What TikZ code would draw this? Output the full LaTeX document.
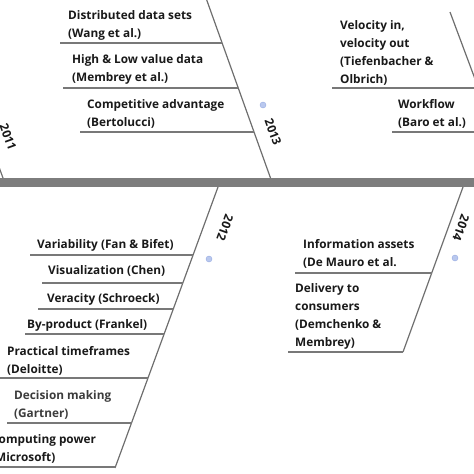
\documentclass[tikz,border=0pt]{standalone}
\usepackage{fontspec}
\setmainfont{Open Sans}
\definecolor{spinegray}{RGB}{125,125,125}
\definecolor{bonegray}{RGB}{110,110,110}
\definecolor{ribgray}{RGB}{120,120,120}
\definecolor{txt}{RGB}{25,25,25}
\definecolor{txtsoft}{RGB}{60,60,60}
\definecolor{dotfill}{RGB}{185,200,238}
\definecolor{dotdraw}{RGB}{150,170,225}
\tikzset{
  spine/.style={line width=9pt, spinegray},
  bone/.style={line width=1.2pt, bonegray},
  rib/.style={line width=1.6pt, ribgray},
  lbl/.style={anchor=north west, inner sep=0pt, align=left, text=txt, yshift=-2.5pt,
    font=\fontsize{11.8}{17.8}\selectfont\bfseries},
  year/.style={inner sep=0pt, text=txt, font=\fontsize{12}{14}\selectfont\bfseries},
  dot/.style={circle, inner sep=0pt, minimum size=6pt, fill=dotfill, draw=dotdraw, line width=0.4pt}
}
\begin{document}
\begin{tikzpicture}[x=1pt,y=-1pt]
\useasboundingbox (0,0) rectangle (474,474);
\clip (0,0) rectangle (474,474);
% spine
\coordinate (sL) at (-5,182.5);
\coordinate (sR) at (480,182.5);
\draw[spine] (sL) -- (sR);
% bones
\coordinate (b11t) at (-62,0);
\coordinate (b11b) at (3,178);
\coordinate (b13t) at (206,-2);
\coordinate (b13b) at (270.5,178);
\coordinate (b14t) at (450,12);
\coordinate (b14b) at (512,178);
\coordinate (b12t) at (218,187);
\coordinate (b12b) at (115,468);
\coordinate (b14lt) at (463,187);
\coordinate (b14lb) at (403,352);
\draw[bone] (b11t) -- (b11b);
\draw[bone] (b13t) -- (b13b);
\draw[bone] (b14t) -- (b14b);
\draw[bone] (b12t) -- (b12b);
\draw[bone] (b14lt) -- (b14lb);
% ribs upper 2013
\coordinate (a1) at (60,43);   \coordinate (a1e) at (221.5,43);
\coordinate (a2) at (63,88);   \coordinate (a2e) at (237.6,88);
\coordinate (a3) at (80,132);  \coordinate (a3e) at (253.5,132);
\draw[rib] (a1) -- (a1e);
\draw[rib] (a2) -- (a2e);
\draw[rib] (a3) -- (a3e);
% ribs upper 2014
\coordinate (c1) at (332,88);  \coordinate (c1e) at (480,88);
\coordinate (c2) at (392,132); \coordinate (c2e) at (480,132);
\draw[rib] (c1) -- (c1e);
\draw[rib] (c2) -- (c2e);
% ribs lower 2012
\coordinate (d1) at (30,255);  \coordinate (d1e) at (193,255);
\coordinate (d2) at (42,283);  \coordinate (d2e) at (183,283);
\coordinate (d3) at (38,309);  \coordinate (d3e) at (173.3,309);
\coordinate (d4) at (25,334);  \coordinate (d4e) at (164,334);
\coordinate (d5) at (-5,378);  \coordinate (d5e) at (148,378);
\coordinate (d6) at (7,423);   \coordinate (d6e) at (131.5,423);
\coordinate (d7) at (-5,467);  \coordinate (d7e) at (115.4,467);
\foreach \r in {d1,d2,d3,d4,d5,d6,d7} \draw[rib] (\r) -- (\r e);
% ribs lower 2014
\coordinate (e1) at (295,273); \coordinate (e1e) at (431.7,273);
\coordinate (e2) at (288,352); \coordinate (e2e) at (403,352);
\draw[rib] (e1) -- (e1e);
\draw[rib] (e2) -- (e2e);
% labels
\node[lbl] (t1) at (68,8) {Distributed data sets\\(Wang et al.)};
\node[lbl] (t2) at (72,52) {High \& Low value data\\(Membrey et al.)};
\node[lbl] (t3) at (87,97) {Competitive advantage\\(Bertolucci)};
\node[lbl] (t4) at (340,18) {Velocity in,\\velocity out\\(Tiefenbacher \&\\Olbrich)};
\node[lbl] (t5) at (398,97) {Workflow\\(Baro et al.)};
\node[lbl] (t6) at (37,237) {Variability (Fan \& Bifet)};
\node[lbl] (t7) at (48,263) {Visualization (Chen)};
\node[lbl] (t8) at (47,291) {Veracity (Schroeck)};
\node[lbl] (t9) at (27,317) {By-product (Frankel)};
\node[lbl] (t10) at (7,344) {Practical timeframes\\(Deloitte)};
\node[lbl, text=txtsoft] (t11) at (14,388) {Decision making\\(Gartner)};
\node[lbl] (t12) at (-9,432) {Computing power\\(Microsoft)};
\node[lbl] (t13) at (303,237) {Information assets\\(De Mauro et al.};
\node[lbl] (t14) at (295,281) {Delivery to\\consumers\\(Demchenko \&\\Membrey)};
% years
\node[year, rotate=-70] (y11) at (8,137) {2011};
\node[year, rotate=-70] (y13) at (273,132) {2013};
\node[year, rotate=-110] (y12) at (225,228) {2012};
\node[year, rotate=-110] (y14) at (461,228) {2014};
% dots
\node[dot] (p13) at (263,105) {};
\node[dot] (p12) at (209,259) {};
\node[dot] (p14) at (455,258) {};
\end{tikzpicture}
\end{document}
